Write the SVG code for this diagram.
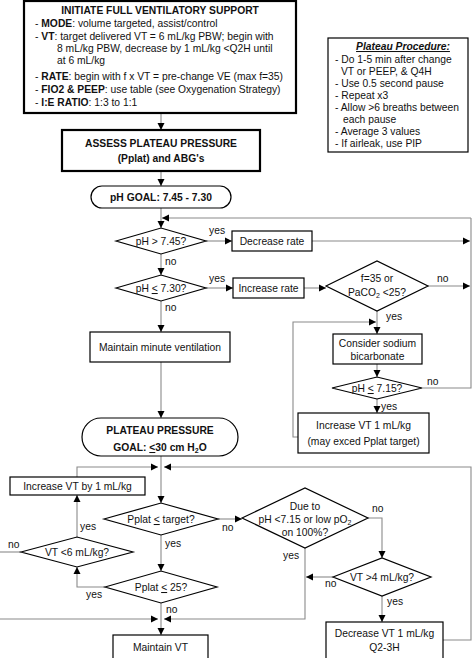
<svg xmlns="http://www.w3.org/2000/svg" width="474" height="658" viewBox="0 0 474 658">
<defs>
<marker id="ah" markerUnits="userSpaceOnUse" markerWidth="8" markerHeight="8" refX="7" refY="4" orient="auto">
<path d="M0,0.5 L7,4 L0,7.5 Z" fill="#000"/>
</marker>
<style>
text{font-family:"Liberation Sans",Arial,sans-serif;font-size:10.3px;fill:#111}
.b{font-weight:bold}
.c{text-anchor:middle}
.box{fill:#fff;stroke:#000;stroke-width:1.2}
.thick{fill:#fff;stroke:#000;stroke-width:2.2}
.con{fill:none;stroke:#8a8a8a;stroke-width:1.1}
.arr{marker-end:url(#ah)}
.sub{font-size:7px}
</style>
</defs>
<rect width="474" height="658" fill="#fff"/>

<g id="connectors">
<path class="con arr" d="M161,114 V130"/>
<path class="con arr" d="M161,171 V186"/>
<path class="con arr" d="M161,208 V228"/>
<path class="con arr" d="M471,218 H162"/>
<path class="con arr" d="M206,241 H232"/>
<path class="con arr" d="M312,241 H470"/>
<path class="con arr" d="M161,254 V275"/>
<path class="con arr" d="M206,288 H233"/>
<path class="con arr" d="M304,288 H326"/>
<path class="con arr" d="M428,286 H470"/>
<path class="con" d="M471,218 V388 H422"/>
<path class="con arr" d="M377,311 V334"/>
<path class="con arr" d="M298,437 H293 V322 H376"/>
<path class="con arr" d="M377,364 V377"/>
<path class="con arr" d="M377,399 V413"/>
<path class="con arr" d="M161,301 V332"/>
<path class="con arr" d="M161,362 V418"/>
<path class="con arr" d="M161,456 V503"/>
<path class="con arr" d="M77,477 V467 H158"/>
<path class="con arr" d="M443,640 H471 V467 H164"/>
<path class="con arr" d="M218,519 H242"/>
<path class="con arr" d="M368,518 H382 V558"/>
<path class="con arr" d="M77,537 V495"/>
<path class="con" d="M21,552 H0"/>
<path class="con arr" d="M161,535 V571"/>
<path class="con arr" d="M105,587 H77 V567"/>
<path class="con arr" d="M0,619 H158"/>
<path class="con arr" d="M305,548 V619 H164"/>
<path class="con arr" d="M161,603 V635"/>
<path class="con arr" d="M333,577 H306"/>
<path class="con arr" d="M382,596 V622"/>
</g>

<g id="labels">
<text x="209" y="234">yes</text>
<text x="165" y="265">no</text>
<text x="209" y="282">yes</text>
<text x="165" y="311">no</text>
<text x="437" y="282">no</text>
<text x="386" y="320">yes</text>
<text x="427" y="385">no</text>
<text x="381" y="410">yes</text>
<text x="222" y="531">no</text>
<text x="372" y="512">no</text>
<text x="80" y="530">yes</text>
<text x="8" y="548">no</text>
<text x="165" y="547">yes</text>
<text x="86" y="598">yes</text>
<text x="166" y="613">no</text>
<text x="283" y="559">yes</text>
<text x="325" y="587">no</text>
<text x="387" y="605">yes</text>
</g>

<g id="n-initiate">
<rect class="thick" x="24" y="1" width="272" height="112"/>
<text class="b c" x="160" y="14">INITIATE FULL VENTILATORY SUPPORT</text>
<text x="35" y="27">- <tspan class="b">MODE</tspan>: volume targeted, assist/control</text>
<text x="35" y="40">- <tspan class="b">VT</tspan>: target delivered VT = 6 mL/kg PBW; begin with</text>
<text x="57" y="52">8 mL/kg PBW, decrease by 1 mL/kg &lt;Q2H until</text>
<text x="57" y="64">at 6 mL/kg</text>
<text x="35" y="80">- <tspan class="b">RATE</tspan>: begin with f x VT = pre-change VE (max f=35)</text>
<text x="35" y="93">- <tspan class="b">FIO2 &amp; PEEP</tspan>: use table (see Oxygenation Strategy)</text>
<text x="35" y="106">- <tspan class="b">I:E RATIO</tspan>: 1:3 to 1:1</text>
</g>

<g id="n-procedure">
<rect class="box" x="328" y="38" width="140" height="114"/>
<text class="b c" x="403" y="50" font-style="italic" text-decoration="underline">Plateau Procedure:</text>
<text x="335" y="63">- Do 1-5 min after change</text>
<text x="341" y="75">VT or PEEP, &amp; Q4H</text>
<text x="335" y="87">- Use 0.5 second pause</text>
<text x="335" y="99">- Repeat x3</text>
<text x="335" y="111">- Allow &gt;6 breaths between</text>
<text x="343" y="123">each pause</text>
<text x="335" y="135">- Average 3 values</text>
<text x="335" y="147">- If airleak, use PIP</text>
</g>

<g id="n-assess">
<rect class="thick" x="62" y="130" width="198" height="41"/>
<text class="b c" x="161" y="147">ASSESS PLATEAU PRESSURE</text>
<text class="b c" x="161" y="162">(Pplat) and ABG's</text>
</g>

<g id="n-phgoal">
<rect class="box" x="91" y="186" width="140" height="22" rx="11"/>
<text class="b c" x="161" y="201">pH GOAL: 7.45 - 7.30</text>
</g>

<g id="n-ph745">
<polygon class="box" points="116,241 161,228 206,241 161,254"/>
<text class="c" x="161" y="245">pH &gt; 7.45?</text>
</g>

<g id="n-decrate">
<rect class="box" x="232" y="231" width="80" height="20"/>
<text class="c" x="272" y="245">Decrease rate</text>
</g>

<g id="n-ph730">
<polygon class="box" points="116,288 161,275 206,288 161,301"/>
<text class="c" x="161" y="292">pH <tspan text-decoration="underline">&lt;</tspan> 7.30?</text>
</g>

<g id="n-incrate">
<rect class="box" x="233" y="278" width="71" height="20"/>
<text class="c" x="268.5" y="292">Increase rate</text>
</g>

<g id="n-f35">
<polygon class="box" points="326,286 377,261 428,286 377,311"/>
<text class="c" x="377" y="282">f=35 or</text>
<text class="c" x="377" y="296">PaCO<tspan class="sub" dy="2">2</tspan><tspan dy="-2"> &lt;25?</tspan></text>
</g>

<g id="n-bicarb">
<rect class="box" x="333" y="334" width="89" height="30"/>
<text class="c" x="377.5" y="347">Consider sodium</text>
<text class="c" x="377.5" y="360">bicarbonate</text>
</g>

<g id="n-ph715">
<polygon class="box" points="332,388 377,377 422,388 377,399"/>
<text class="c" x="377" y="392">pH <tspan text-decoration="underline">&lt;</tspan> 7.15?</text>
</g>

<g id="n-incvt1">
<rect class="box" x="298" y="413" width="131" height="40"/>
<text class="c" x="363.5" y="429">Increase VT 1 mL/kg</text>
<text class="c" x="363.5" y="445">(may exced Pplat target)</text>
</g>

<g id="n-maintainmv">
<rect class="box" x="90" y="332" width="140" height="30"/>
<text class="c" x="160" y="351">Maintain minute ventilation</text>
</g>

<g id="n-pplatgoal">
<rect class="box" x="82" y="418" width="156" height="38" rx="19"/>
<text class="b c" x="160" y="434">PLATEAU PRESSURE</text>
<text class="b c" x="160" y="451">GOAL: <tspan text-decoration="underline">&lt;</tspan>30 cm H<tspan class="sub" dy="2">2</tspan><tspan dy="-2">O</tspan></text>
</g>

<g id="n-incvtby1">
<rect class="box" x="10" y="477" width="135" height="18"/>
<text class="c" x="77.5" y="490">Increase VT by 1 mL/kg</text>
</g>

<g id="n-pplattarget">
<polygon class="box" points="104,519 161,503 218,519 161,535"/>
<text class="c" x="161" y="523">Pplat <tspan text-decoration="underline">&lt;</tspan> target?</text>
</g>

<g id="n-dueto">
<polygon class="box" points="242,518 305,488 368,518 305,548"/>
<text class="c" x="305" y="510">Due to</text>
<text class="c" x="305" y="523">pH &lt;7.15 or low pO<tspan class="sub" dy="2">2</tspan></text>
<text class="c" x="305" y="536">on 100%?</text>
</g>

<g id="n-vt6">
<polygon class="box" points="21,552 77,537 133,552 77,567"/>
<text class="c" x="77" y="556">VT &lt;6 mL/kg?</text>
</g>

<g id="n-pplat25">
<polygon class="box" points="105,587 161,571 217,587 161,603"/>
<text class="c" x="161" y="591">Pplat <tspan text-decoration="underline">&lt;</tspan> 25?</text>
</g>

<g id="n-maintainvt">
<rect class="box" x="113" y="635" width="95" height="30"/>
<text class="c" x="160.5" y="651">Maintain VT</text>
</g>

<g id="n-vt4">
<polygon class="box" points="333,577 382,558 431,577 382,596"/>
<text class="c" x="382" y="581">VT &gt;4 mL/kg?</text>
</g>

<g id="n-decvt">
<rect class="box" x="326" y="622" width="117" height="40"/>
<text class="c" x="384.5" y="637">Decrease VT 1 mL/kg</text>
<text class="c" x="384.5" y="651">Q2-3H</text>
</g>
</svg>
